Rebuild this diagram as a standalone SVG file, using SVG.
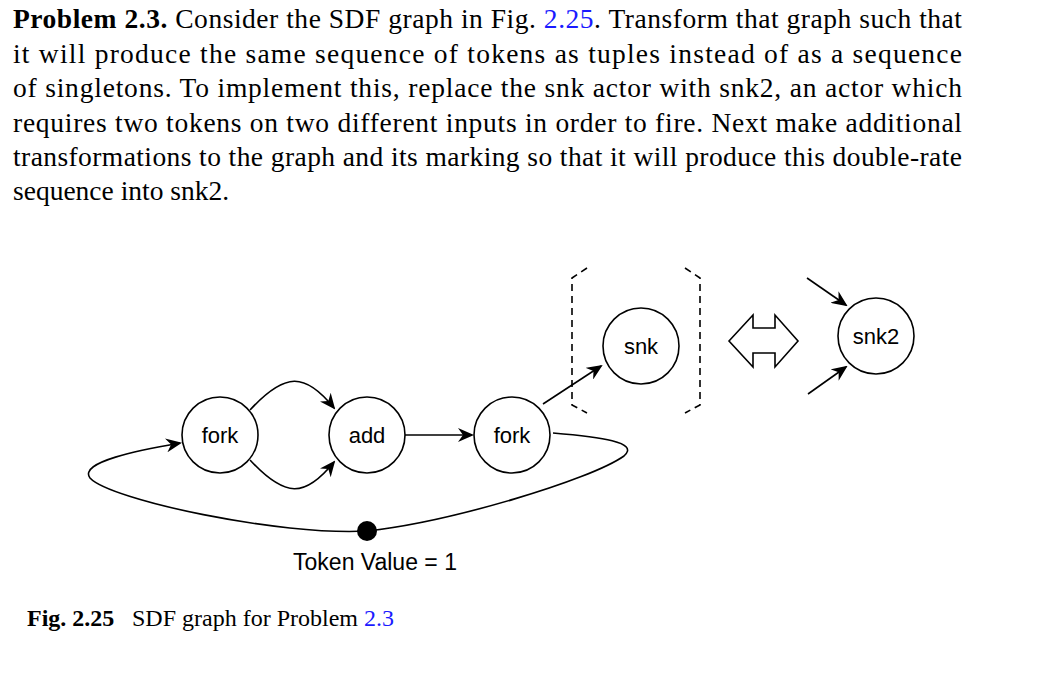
<svg xmlns="http://www.w3.org/2000/svg" width="1045" height="680" viewBox="0 0 1045 680">
<style>
.p{font-family:"Liberation Serif",serif;font-size:27.5px;fill:#000}
.b{font-weight:bold}
.l{fill:#1a1aff}
.n{fill:#fff;stroke:#000;stroke-width:1.6}
.t{font-family:"Liberation Sans",Arial,sans-serif;font-size:22px;text-anchor:middle;fill:#000}
.e{fill:none;stroke:#000;stroke-width:1.6}
.d{fill:none;stroke:#000;stroke-width:1.6;stroke-dasharray:7,5}
</style>
<defs>
<marker id="a" markerWidth="16" markerHeight="14" refX="14" refY="7" orient="auto" markerUnits="userSpaceOnUse">
<path d="M0,0 L16,7 L0,14 L5,7 Z" fill="#000"/>
</marker>
</defs>
<rect width="1045" height="680" fill="#fff"/>
<g id="text">
<text class="p" x="13" y="28" textLength="949" lengthAdjust="spacing"><tspan class="b">Problem 2.3.</tspan> Consider the SDF graph in Fig. <tspan class="l">2.25</tspan>. Transform that graph such that</text>
<text class="p" x="13" y="63" textLength="949" lengthAdjust="spacing">it will produce the same sequence of tokens as tuples instead of as a sequence</text>
<text class="p" x="13" y="97" textLength="949" lengthAdjust="spacing">of singletons. To implement this, replace the snk actor with snk2, an actor which</text>
<text class="p" x="13" y="132" textLength="949" lengthAdjust="spacing">requires two tokens on two different inputs in order to fire. Next make additional</text>
<text class="p" x="13" y="166" textLength="949" lengthAdjust="spacing">transformations to the graph and its marking so that it will produce this double-rate</text>
<text class="p" x="13" y="200">sequence into snk2.</text>
<text class="p" x="27" y="626" style="font-size:24px"><tspan class="b">Fig. 2.25</tspan><tspan x="132">SDF graph for Problem </tspan><tspan class="l">2.3</tspan></text>
</g>
<g id="connectors">
<path class="e" d="M250,410 C285,372 305,372 334,408" marker-end="url(#a)"/>
<path class="e" d="M250,460 C285,498 305,498 334,462" marker-end="url(#a)"/>
<path class="e" d="M405,435 L472,435" marker-end="url(#a)"/>
<path class="e" d="M543,404 L601,366" marker-end="url(#a)"/>
<path class="e" d="M553,433 C600,437 640,442 624,456 C590,480 450,522 367,531 C280,536 110,500 90,478 C78,462 140,450 180,443" marker-end="url(#a)"/>
<path class="e" d="M807,278 L846,305" marker-end="url(#a)"/>
<path class="e" d="M808,394 L846,367" marker-end="url(#a)"/>
<path class="d" d="M587,268 L572,278 L572,405 L587,413"/>
<path class="d" d="M685,268 L700,278 L700,405 L685,413"/>
<path class="e" d="M729,341 L753,315 L753,328 L775,328 L775,315 L798,341 L775,367 L775,353 L753,353 L753,367 Z"/>
</g>
<g id="token"><circle cx="367" cy="531" r="10" fill="#000"/><text class="t" x="375" y="570" style="font-size:23px">Token Value = 1</text></g>
<g id="fork1"><circle class="n" cx="220" cy="435" r="38"/><text class="t" x="220" y="443">fork</text></g>
<g id="add"><circle class="n" cx="367" cy="435" r="38"/><text class="t" x="367" y="443">add</text></g>
<g id="fork2"><circle class="n" cx="512" cy="435" r="38"/><text class="t" x="512" y="443">fork</text></g>
<g id="snk"><circle class="n" cx="641" cy="346" r="38"/><text class="t" x="641" y="354">snk</text></g>
<g id="snk2"><circle class="n" cx="876" cy="336" r="38"/><text class="t" x="876" y="344">snk2</text></g>
</svg>
